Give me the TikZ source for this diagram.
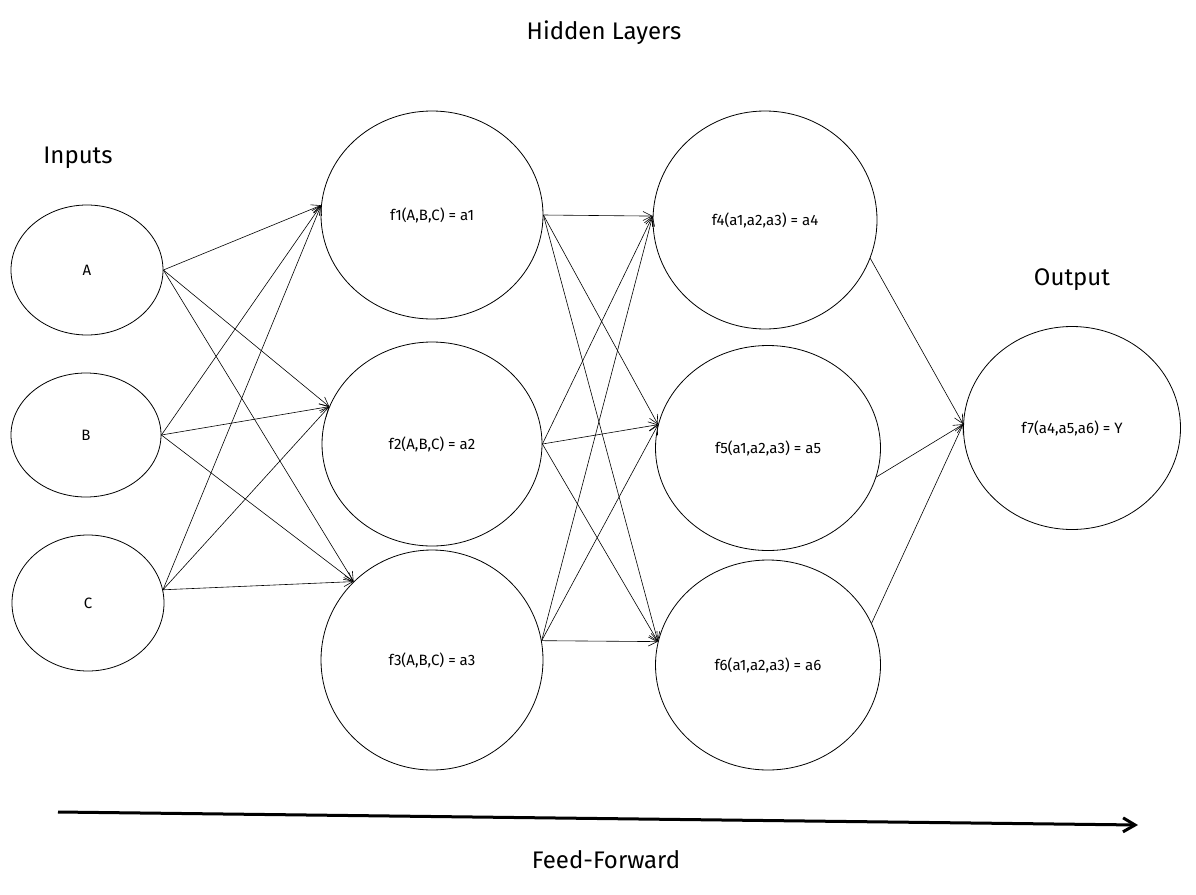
\documentclass[tikz,border=0pt]{standalone}
\usepackage{fontspec}
\setmainfont{Fira Sans}
\usetikzlibrary{shapes.geometric,arrows.meta}
\begin{document}
\begin{tikzpicture}[x=1pt,y=-1pt,
  n/.style={draw,ellipse,line width=0.8pt,inner sep=0pt,font=\fontsize{15}{17}\selectfont},
  e/.style={-{Straight Barb[length=9pt,width=9pt]},line width=0.6pt},
  t/.style={font=\fontsize{24}{28}\selectfont}]
\useasboundingbox (0,0) rectangle (1196,894);
\node[n,minimum width=152pt,minimum height=130pt] (A) at (87,270) {A};
\node[n,minimum width=150pt,minimum height=124pt] (B) at (86,435) {B};
\node[n,minimum width=152pt,minimum height=136pt] (C) at (88,603) {C};
\node[n,minimum width=222pt,minimum height=208pt] (f1) at (432,215) {f1(A,B,C) = a1};
\node[n,minimum width=220pt,minimum height=204pt] (f2) at (432,444) {f2(A,B,C) = a2};
\node[n,minimum width=222pt,minimum height=220pt] (f3) at (432,660) {f3(A,B,C) = a3};
\node[n,minimum width=224pt,minimum height=218pt] (f4) at (765,220) {f4(a1,a2,a3) = a4};
\node[n,minimum width=225pt,minimum height=205pt] (f5) at (768,448) {f5(a1,a2,a3) = a5};
\node[n,minimum width=225pt,minimum height=210pt] (f6) at (768,665) {f6(a1,a2,a3) = a6};
\node[n,minimum width=217pt,minimum height=203pt] (f7) at (1072,428) {f7(a4,a5,a6) = Y};
\foreach \s/\a in {A/0,B/0,C/10}{
  \draw[e] (\s.\a) -- (f1.175);
  \draw[e] (\s.\a) -- (f2.160);
  \draw[e] (\s.\a) -- (f3.135);}
\foreach \s/\a in {f1/0,f2/0,f3/10}{
  \draw[e] (\s.\a) -- (f4.178);
  \draw[e] (\s.\a) -- (f5.168);
  \draw[e] (\s.\a) -- (f6.168);}
\draw[e] (f4.-20) -- (f7.178);
\draw[e] (f5.-15) -- (f7.178);
\draw[e] (f6.22) -- (f7.178);
\node[t] (hl) at (604,33) {Hidden Layers};
\node[t] (in) at (78,158) {Inputs};
\node[t] (out) at (1072,280) {Output};
\node[t] (ff) at (606,860) {Feed-Forward};
\coordinate (s) at (58,812);
\coordinate (d) at (1138,825);
\draw[-{Straight Barb[length=12pt,width=14pt]},line width=3pt] (s) -- (d);
\end{tikzpicture}
\end{document}
